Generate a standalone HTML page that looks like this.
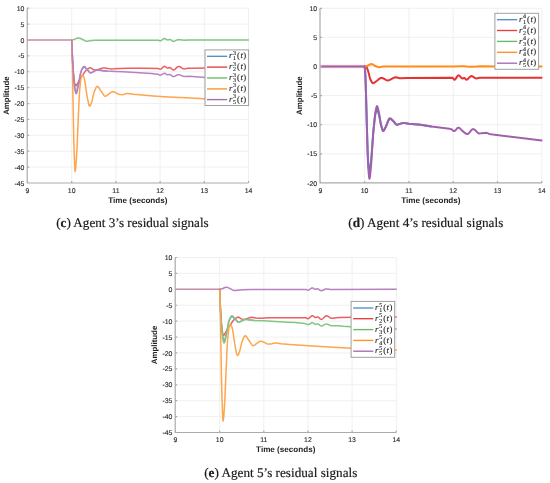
<!DOCTYPE html>
<html><head><meta charset="utf-8"><title>Agent residual signals</title>
<style>html,body{margin:0;padding:0;background:#fff;}svg{display:block;text-rendering:geometricPrecision;}</style></head>
<body><svg width="550" height="483" viewBox="0 0 550 483">
<defs><clipPath id="cc"><rect x="27.50" y="6.20" width="221.80" height="176.79"/></clipPath><clipPath id="cd"><rect x="320.30" y="6.30" width="222.30" height="176.60"/></clipPath><clipPath id="ce"><rect x="175.50" y="255.50" width="221.55" height="177.01"/></clipPath><filter id="soft" x="0" y="0" width="1" height="1"><feGaussianBlur stdDeviation="0.3"/></filter></defs>
<rect width="550" height="483" fill="#fff"/>
<g filter="url(#soft)">
<rect width="550" height="483" fill="#fff"/>
<path d="M71.70 8.20V182.99M115.90 8.20V182.99M160.10 8.20V182.99M204.30 8.20V182.99M248.50 8.20V182.99M27.50 8.20H248.50M27.50 24.09H248.50M27.50 39.98H248.50M27.50 55.87H248.50M27.50 71.76H248.50M27.50 87.65H248.50M27.50 103.54H248.50M27.50 119.43H248.50M27.50 135.32H248.50M27.50 151.21H248.50M27.50 167.10H248.50" stroke="#ececec" stroke-width="0.8" fill="none"/>
<path d="M27.50 39.98H71.70" stroke="#c88caa" stroke-width="1.50" fill="none"/>
<path d="M71.70 39.98L72.15 49.81L72.50 60.00L73.04 69.25L73.49 75.40L73.94 80.29L74.39 84.27L74.83 87.37L75.28 89.48L75.73 91.17L76.12 91.78L76.62 91.11L77.07 89.66L78.86 81.82L80.20 74.90L80.65 72.87L81.10 71.27L81.42 70.49L82.44 68.73L82.89 68.10L83.34 67.64L83.79 67.36L84.08 67.31L84.68 67.45L85.13 67.72L87.37 69.71L89.60 72.29L90.05 72.65L90.50 72.85L90.95 72.86L91.84 72.56L94.08 71.29L95.87 70.15L96.32 69.96L96.77 69.86L98.11 69.93L104.82 70.90L107.06 71.12" fill="none" stroke="#73a5cd" stroke-width="1.50" stroke-linejoin="round" stroke-linecap="round" clip-path="url(#cc)"/>
<path d="M71.70 39.98L72.14 49.20L72.50 59.05L73.03 67.75L73.47 73.66L73.91 78.12L74.36 81.70L74.80 84.09L75.24 85.08L75.69 85.66L75.90 85.74L76.13 85.65L76.57 85.10L77.45 83.52L80.56 78.32L82.33 75.55L84.99 71.62L85.88 70.55L87.65 69.03L88.98 68.14L89.87 67.82L90.31 67.79L90.75 67.88L91.20 68.10L92.53 69.07L93.36 69.54L95.18 70.15L96.45 70.33L96.96 70.27L97.40 70.13L99.62 69.03L101.39 68.45L102.72 68.09L103.97 67.95L104.93 68.02L107.94 68.58L110.25 68.84L111.48 68.90L113.80 68.83L119.56 68.44L127.97 68.32L144.37 68.27L157.89 68.42L158.55 68.62L159.44 69.12L160.10 69.31L160.76 69.13L161.21 68.85L163.42 66.80L163.87 66.52L164.52 66.34L164.75 66.37L165.20 66.56L166.53 67.59L166.97 67.89L167.41 68.07L167.85 68.07L169.63 67.58L170.07 67.60L170.51 67.81L170.96 68.16L172.29 69.47L172.73 69.81L173.36 70.01L174.06 69.84L174.50 69.59L175.39 68.85L177.16 67.14L178.05 66.58L178.66 66.45L179.38 66.57L179.82 66.75L180.70 67.27L182.48 68.46L183.36 68.86L183.97 68.95L185.14 68.86L188.24 68.31L192.23 68.17L206.40 67.92L248.50 67.63" fill="none" stroke="#ec5f60" stroke-width="1.50" stroke-linejoin="round" stroke-linecap="round" clip-path="url(#cc)"/>
<path d="M71.70 39.98L72.59 39.87L73.92 39.50L74.80 39.19L77.02 38.18L77.90 37.95L78.33 37.91L79.23 38.02L80.56 38.49L83.22 39.74L84.55 40.58L85.44 41.06L85.88 41.20L86.29 41.25L87.65 41.15L89.87 40.82L94.74 40.29L103.60 40.15L157.89 40.14L158.55 40.29L159.44 40.70L160.10 40.85L160.76 40.71L161.21 40.49L163.42 38.91L163.87 38.69L164.52 38.56L165.20 38.72L166.53 39.52L166.97 39.76L167.41 39.89L167.85 39.90L169.63 39.51L170.07 39.53L170.51 39.69L170.96 39.96L172.29 40.98L172.73 41.23L173.36 41.39L174.06 41.31L174.50 41.18L177.16 39.92L178.05 39.63L178.66 39.56L179.82 39.64L182.48 40.10L183.97 40.23L188.68 40.04L248.50 39.98" fill="none" stroke="#82c780" stroke-width="1.50" stroke-linejoin="round" stroke-linecap="round" clip-path="url(#cc)"/>
<path d="M71.70 39.98L72.23 52.69L73.03 102.59L73.47 125.64L73.92 144.43L74.36 157.95L74.80 168.78L75.10 171.55L75.24 171.34L75.69 168.31L76.13 162.65L77.02 148.17L78.79 106.21L79.23 97.11L79.68 90.16L80.56 81.08L81.01 78.22L81.20 77.48L81.89 75.83L82.33 75.17L82.75 74.94L83.22 75.43L83.66 76.60L84.55 79.83L84.99 81.98L86.77 94.28L87.17 96.55L88.54 103.47L88.98 105.11L89.42 106.00L89.60 106.08L89.87 105.97L90.31 105.39L90.75 104.44L91.64 102.14L92.08 100.67L93.86 92.95L94.24 91.78L95.18 89.47L96.07 87.60L96.51 86.93L96.96 86.50L97.34 86.38L97.84 86.55L98.29 86.94L98.73 87.49L100.50 90.32L101.39 91.53L103.60 94.96L104.05 95.50L104.49 95.91L104.93 96.16L105.29 96.23L105.82 96.14L106.71 95.68L108.92 93.91L111.58 92.15L112.47 91.81L112.91 91.78L113.35 91.83L114.24 92.07L116.01 92.78L118.67 94.28L119.44 94.48L120.44 94.56L122.21 94.64L123.10 94.60L123.99 94.40L125.76 93.82L126.65 93.60L127.97 93.54L129.75 93.73L133.29 94.29L142.15 95.11L153.23 95.94L168.74 96.92L185.58 97.85L208.62 98.98L229.00 99.89L248.50 100.68" fill="none" stroke="#ffa54c" stroke-width="1.50" stroke-linejoin="round" stroke-linecap="round" clip-path="url(#cc)"/>
<path d="M71.70 39.98L72.14 49.66L72.50 60.00L73.03 68.87L73.47 74.89L74.36 84.93L74.80 88.92L75.24 91.26L75.69 92.99L76.12 93.69L76.57 93.15L77.02 91.81L77.46 89.97L78.79 83.92L80.12 76.20L80.56 73.79L81.01 71.80L81.42 70.49L82.33 68.44L82.78 67.60L83.22 66.93L83.66 66.50L84.08 66.36L84.55 66.50L84.99 66.84L85.44 67.33L86.77 69.09L89.42 72.17L89.87 72.55L90.31 72.80L90.71 72.87L91.20 72.81L92.08 72.44L94.30 71.16L96.07 70.05L96.51 69.90L97.40 69.87L98.73 70.01L104.93 70.91L106.71 71.10L115.90 71.44L123.10 71.79L139.50 72.81L147.47 73.24L151.46 73.53L155.00 73.89L157.89 74.30L158.55 74.55L159.44 75.04L160.10 75.21L160.76 75.09L161.21 74.91L163.42 73.62L163.87 73.45L164.52 73.34L165.20 73.52L166.53 74.39L166.97 74.64L167.41 74.79L167.85 74.80L169.63 74.58L170.07 74.60L170.51 74.77L170.96 75.06L172.29 76.14L172.73 76.41L173.36 76.58L174.06 76.49L174.50 76.35L177.16 75.02L178.05 74.71L178.66 74.64L179.38 74.72L179.82 74.85L182.48 76.04L183.36 76.32L183.81 76.38L190.01 76.35L195.46 76.84L206.40 77.60L248.50 79.70" fill="none" stroke="#b783bf" stroke-width="1.50" stroke-linejoin="round" stroke-linecap="round" clip-path="url(#cc)"/>
<path d="M27.20 8.20V183.49M26.70 182.99H248.50M27.50 182.99V180.99M71.70 182.99V180.99M115.90 182.99V180.99M160.10 182.99V180.99M204.30 182.99V180.99M248.50 182.99V180.99M27.20 8.20H29.20M27.20 24.09H29.20M27.20 39.98H29.20M27.20 55.87H29.20M27.20 71.76H29.20M27.20 87.65H29.20M27.20 103.54H29.20M27.20 119.43H29.20M27.20 135.32H29.20M27.20 151.21H29.20M27.20 167.10H29.20M27.20 182.99H29.20" stroke="#ababab" stroke-width="1.2" fill="none"/>
<g font-family="'Liberation Sans', Arial, Helvetica, sans-serif" font-size="6.9" fill="#2e2e2e" stroke="#2e2e2e" stroke-width="0.14"><text x="27.50" y="192.89" text-anchor="middle">9</text><text x="71.70" y="192.89" text-anchor="middle">10</text><text x="115.90" y="192.89" text-anchor="middle">11</text><text x="160.10" y="192.89" text-anchor="middle">12</text><text x="204.30" y="192.89" text-anchor="middle">13</text><text x="248.50" y="192.89" text-anchor="middle">14</text><text x="24.40" y="10.80" text-anchor="end">10</text><text x="24.40" y="26.69" text-anchor="end">5</text><text x="24.40" y="42.58" text-anchor="end">0</text><text x="24.40" y="58.47" text-anchor="end">-5</text><text x="24.40" y="74.36" text-anchor="end">-10</text><text x="24.40" y="90.25" text-anchor="end">-15</text><text x="24.40" y="106.14" text-anchor="end">-20</text><text x="24.40" y="122.03" text-anchor="end">-25</text><text x="24.40" y="137.92" text-anchor="end">-30</text><text x="24.40" y="153.81" text-anchor="end">-35</text><text x="24.40" y="169.70" text-anchor="end">-40</text><text x="24.40" y="185.59" text-anchor="end">-45</text></g>
<text x="137.85" y="202.50" text-anchor="middle" font-family="'Liberation Sans', Arial, Helvetica, sans-serif" font-weight="bold" font-size="8.1" fill="#222">Time (seconds)</text>
<text transform="translate(9.00 95.59) rotate(-90)" text-anchor="middle" font-family="'Liberation Sans', Arial, Helvetica, sans-serif" font-weight="bold" font-size="7.9" fill="#222">Amplitude</text>
<rect x="205.00" y="49.90" width="43.60" height="55.60" fill="#fff" stroke="#a0a0a0" stroke-width="1"/>
<path d="M207.00 56.30H227.20" stroke="#5591c3" stroke-width="1.35"/>
<text font-family="'Liberation Serif', 'Times New Roman', serif" font-size="8.7" fill="#262626" stroke="#262626" stroke-width="0.12"><tspan x="228.90" y="58.40" font-style="italic">r</tspan><tspan x="233.00" y="54.80" font-size="6">3</tspan><tspan x="233.00" y="60.40" font-size="6">1</tspan><tspan x="237.00" y="58.40" letter-spacing="0.5">(<tspan font-style="italic">t</tspan>)</tspan></text>
<path d="M207.00 67.10H227.20" stroke="#e83c3e" stroke-width="1.35"/>
<text font-family="'Liberation Serif', 'Times New Roman', serif" font-size="8.7" fill="#262626" stroke="#262626" stroke-width="0.12"><tspan x="228.90" y="69.20" font-style="italic">r</tspan><tspan x="233.00" y="65.60" font-size="6">3</tspan><tspan x="233.00" y="71.20" font-size="6">2</tspan><tspan x="237.00" y="69.20" letter-spacing="0.5">(<tspan font-style="italic">t</tspan>)</tspan></text>
<path d="M207.00 78.00H227.20" stroke="#68bb65" stroke-width="1.35"/>
<text font-family="'Liberation Serif', 'Times New Roman', serif" font-size="8.7" fill="#262626" stroke="#262626" stroke-width="0.12"><tspan x="228.90" y="80.10" font-style="italic">r</tspan><tspan x="233.00" y="76.50" font-size="6">3</tspan><tspan x="233.00" y="82.10" font-size="6">3</tspan><tspan x="237.00" y="80.10" letter-spacing="0.5">(<tspan font-style="italic">t</tspan>)</tspan></text>
<path d="M207.00 88.90H227.20" stroke="#ff9226" stroke-width="1.35"/>
<text font-family="'Liberation Serif', 'Times New Roman', serif" font-size="8.7" fill="#262626" stroke="#262626" stroke-width="0.12"><tspan x="228.90" y="91.00" font-style="italic">r</tspan><tspan x="233.00" y="87.40" font-size="6">3</tspan><tspan x="233.00" y="93.00" font-size="6">4</tspan><tspan x="237.00" y="91.00" letter-spacing="0.5">(<tspan font-style="italic">t</tspan>)</tspan></text>
<path d="M207.00 99.60H227.20" stroke="#a769b1" stroke-width="1.35"/>
<text font-family="'Liberation Serif', 'Times New Roman', serif" font-size="8.7" fill="#262626" stroke="#262626" stroke-width="0.12"><tspan x="228.90" y="101.70" font-style="italic">r</tspan><tspan x="233.00" y="98.10" font-size="6">3</tspan><tspan x="233.00" y="103.70" font-size="6">5</tspan><tspan x="237.00" y="101.70" letter-spacing="0.5">(<tspan font-style="italic">t</tspan>)</tspan></text>
<path d="M364.60 8.30V182.90M408.90 8.30V182.90M453.20 8.30V182.90M497.50 8.30V182.90M541.80 8.30V182.90M320.30 8.30H541.80M320.30 37.40H541.80M320.30 66.50H541.80M320.30 95.60H541.80M320.30 124.70H541.80M320.30 153.80H541.80" stroke="#ececec" stroke-width="0.8" fill="none"/>
<path d="M320.30 66.50H365.04" stroke="#f4cfc8" stroke-width="3.40" fill="none"/>
<path d="M320.30 66.50H364.60" stroke="#a260ac" stroke-width="2.00" fill="none"/>
<path d="M364.60 66.50L365.05 70.31L365.49 78.25L365.94 91.15L366.82 124.70L367.72 152.93L368.14 161.37L368.61 167.04L369.06 171.01L369.47 172.42L369.95 170.62L370.84 162.75L371.29 158.11L371.74 152.50L373.07 134.66L374.41 121.55L374.86 117.86L375.30 114.85L375.68 113.06L376.20 111.14L376.64 109.93L377.00 109.57L377.09 109.59L377.53 110.20L377.98 111.44L378.87 114.56L379.32 116.49L380.66 123.38L381.99 128.21L382.44 129.50L382.88 130.32L383.21 130.52L383.33 130.50L383.78 130.21L384.22 129.63L385.56 127.38L386.45 125.47L387.79 122.00L388.68 120.03L389.13 119.35L389.57 118.95L389.85 118.88L390.47 119.00L390.91 119.21L391.80 119.84L393.59 121.37L394.03 121.85L395.82 124.06L396.26 124.45L396.71 124.67L397.16 124.69L398.05 124.51L399.83 123.89L402.51 123.09L403.40 122.96L403.85 122.96L405.18 123.11L408.90 123.83L411.43 124.07L418.12 124.56L422.13 125.01L426.59 125.66L431.05 126.45" fill="none" stroke="#4b8bbf" stroke-width="2.00" stroke-linejoin="round" stroke-linecap="round" clip-path="url(#cd)"/>
<path d="M364.60 66.50L365.93 66.50L366.38 66.80L366.82 67.58L368.15 71.18L368.60 72.65L369.93 78.09L370.36 79.30L371.71 81.99L372.15 82.63L372.59 83.06L373.02 83.20L373.48 83.13L374.37 82.66L377.04 80.68L379.26 78.84L380.14 78.27L381.03 77.95L381.43 77.91L381.92 77.95L382.81 78.22L383.70 78.66L385.92 79.94L386.81 80.29L387.69 80.41L388.58 80.29L389.47 80.00L390.36 79.58L393.02 78.09L393.91 77.69L394.80 77.41L395.61 77.33L397.02 77.50L399.68 78.18L400.93 78.31L406.68 77.91L452.31 77.73L452.53 77.79L452.98 78.16L453.87 79.29L454.31 79.66L454.53 79.71L454.75 79.67L455.20 79.38L455.64 78.88L457.42 76.16L457.86 75.66L458.31 75.38L458.52 75.35L458.75 75.38L459.20 75.58L459.64 75.94L460.97 77.42L461.86 78.22L462.30 78.41L462.50 78.43L464.08 78.04L464.52 78.08L464.97 78.42L465.86 79.38L466.30 79.68L466.49 79.71L466.75 79.68L467.19 79.51L467.63 79.21L468.08 78.81L469.85 76.93L470.30 76.54L470.74 76.26L471.36 76.10L472.07 76.24L472.52 76.43L475.18 78.15L475.63 78.33L476.24 78.43L477.40 78.30L479.62 77.78L480.67 77.67L496.50 77.73L541.80 77.73" fill="none" stroke="#e73133" stroke-width="2.00" stroke-linejoin="round" stroke-linecap="round" clip-path="url(#cd)"/>
<path d="M364.60 66.50L365.49 66.50L365.93 66.44L366.38 66.27L367.71 65.54L369.93 64.51L370.82 64.19L371.69 64.06L372.15 64.12L372.59 64.29L374.81 65.72L376.59 66.50L377.92 66.99L378.81 67.18L379.22 67.20L380.14 67.11L382.81 66.53L389.91 66.39L408.12 66.50L453.42 66.50L462.06 66.21L464.08 66.29L468.97 66.72L470.92 66.79L472.96 66.73L477.40 66.41L479.62 66.33L496.50 66.50L541.80 66.50" fill="none" stroke="#ff8c1a" stroke-width="2.00" stroke-linejoin="round" stroke-linecap="round" clip-path="url(#cd)"/>
<path d="M364.60 66.50L365.04 70.28L365.49 78.18L365.93 90.76L366.82 124.70L367.71 155.34L368.14 165.44L368.60 172.03L369.04 176.94L369.47 178.83L369.93 176.98L370.82 168.20L371.26 162.97L373.04 135.78L373.46 130.52L374.37 120.87L375.26 113.21L375.68 110.73L376.15 108.43L376.59 106.72L377.00 106.08L377.48 106.72L377.92 108.20L378.81 112.05L379.26 114.34L380.59 122.79L380.99 124.70L381.92 128.34L382.36 129.80L382.81 130.78L383.21 131.10L383.70 130.81L384.14 130.17L385.92 126.59L387.69 121.82L388.58 119.69L389.03 118.92L389.47 118.44L389.91 118.30L390.36 118.40L390.80 118.65L391.25 119.00L393.91 121.75L395.69 123.96L396.13 124.37L396.58 124.63L396.94 124.70L397.91 124.55L399.68 123.93L402.35 123.12L403.24 122.97L404.57 123.02L408.90 123.83L411.68 124.09L417.89 124.54L420.56 124.82L431.66 126.53L449.43 128.75L451.20 129.14L451.65 129.41L452.98 130.57L453.42 130.89L453.87 131.08L454.09 131.10L454.31 131.08L454.75 130.89L455.20 130.55L456.97 128.58L457.42 128.15L457.86 127.82L458.31 127.63L458.75 127.64L459.20 127.81L459.64 128.12L461.86 130.36L464.97 132.95L465.86 133.55L466.30 133.77L467.19 134.00L467.63 133.98L468.08 133.81L468.52 133.50L469.41 132.60L471.19 130.38L472.07 129.51L472.52 129.22L472.96 129.08L473.41 129.09L473.85 129.23L474.74 129.79L475.63 130.61L476.96 132.00L477.85 132.80L478.74 133.32L479.18 133.42L480.96 133.35L484.95 132.91L486.73 132.87L487.62 133.17L488.95 133.82L489.39 133.98L491.17 134.34L492.95 134.61L504.49 136.05L541.80 140.41" fill="none" stroke="#a260ac" stroke-width="2.00" stroke-linejoin="round" stroke-linecap="round" clip-path="url(#cd)"/>
<path d="M320.00 8.30V183.40M319.50 182.90H541.80M320.30 182.90V180.90M364.60 182.90V180.90M408.90 182.90V180.90M453.20 182.90V180.90M497.50 182.90V180.90M541.80 182.90V180.90M320.00 8.30H322.00M320.00 37.40H322.00M320.00 66.50H322.00M320.00 95.60H322.00M320.00 124.70H322.00M320.00 153.80H322.00M320.00 182.90H322.00" stroke="#ababab" stroke-width="1.2" fill="none"/>
<g font-family="'Liberation Sans', Arial, Helvetica, sans-serif" font-size="6.9" fill="#2e2e2e" stroke="#2e2e2e" stroke-width="0.14"><text x="320.30" y="192.80" text-anchor="middle">9</text><text x="364.60" y="192.80" text-anchor="middle">10</text><text x="408.90" y="192.80" text-anchor="middle">11</text><text x="453.20" y="192.80" text-anchor="middle">12</text><text x="497.50" y="192.80" text-anchor="middle">13</text><text x="541.80" y="192.80" text-anchor="middle">14</text><text x="317.20" y="10.90" text-anchor="end">10</text><text x="317.20" y="40.00" text-anchor="end">5</text><text x="317.20" y="69.10" text-anchor="end">0</text><text x="317.20" y="98.20" text-anchor="end">-5</text><text x="317.20" y="127.30" text-anchor="end">-10</text><text x="317.20" y="156.40" text-anchor="end">-15</text><text x="317.20" y="185.50" text-anchor="end">-20</text></g>
<text x="430.90" y="202.50" text-anchor="middle" font-family="'Liberation Sans', Arial, Helvetica, sans-serif" font-weight="bold" font-size="8.1" fill="#222">Time (seconds)</text>
<text transform="translate(301.50 95.60) rotate(-90)" text-anchor="middle" font-family="'Liberation Sans', Arial, Helvetica, sans-serif" font-weight="bold" font-size="7.9" fill="#222">Amplitude</text>
<rect x="494.90" y="13.30" width="43.70" height="56.00" fill="#fff" stroke="#a0a0a0" stroke-width="1"/>
<path d="M497.00 19.70H517.20" stroke="#5591c3" stroke-width="1.35"/>
<text font-family="'Liberation Serif', 'Times New Roman', serif" font-size="8.7" fill="#262626" stroke="#262626" stroke-width="0.12"><tspan x="518.90" y="21.80" font-style="italic">r</tspan><tspan x="523.00" y="18.20" font-size="6">4</tspan><tspan x="523.00" y="23.80" font-size="6">1</tspan><tspan x="527.00" y="21.80" letter-spacing="0.5">(<tspan font-style="italic">t</tspan>)</tspan></text>
<path d="M497.00 30.50H517.20" stroke="#e83c3e" stroke-width="1.35"/>
<text font-family="'Liberation Serif', 'Times New Roman', serif" font-size="8.7" fill="#262626" stroke="#262626" stroke-width="0.12"><tspan x="518.90" y="32.60" font-style="italic">r</tspan><tspan x="523.00" y="29.00" font-size="6">4</tspan><tspan x="523.00" y="34.60" font-size="6">2</tspan><tspan x="527.00" y="32.60" letter-spacing="0.5">(<tspan font-style="italic">t</tspan>)</tspan></text>
<path d="M497.00 41.40H517.20" stroke="#68bb65" stroke-width="1.35"/>
<text font-family="'Liberation Serif', 'Times New Roman', serif" font-size="8.7" fill="#262626" stroke="#262626" stroke-width="0.12"><tspan x="518.90" y="43.50" font-style="italic">r</tspan><tspan x="523.00" y="39.90" font-size="6">4</tspan><tspan x="523.00" y="45.50" font-size="6">3</tspan><tspan x="527.00" y="43.50" letter-spacing="0.5">(<tspan font-style="italic">t</tspan>)</tspan></text>
<path d="M497.00 52.30H517.20" stroke="#ff9226" stroke-width="1.35"/>
<text font-family="'Liberation Serif', 'Times New Roman', serif" font-size="8.7" fill="#262626" stroke="#262626" stroke-width="0.12"><tspan x="518.90" y="54.40" font-style="italic">r</tspan><tspan x="523.00" y="50.80" font-size="6">4</tspan><tspan x="523.00" y="56.40" font-size="6">4</tspan><tspan x="527.00" y="54.40" letter-spacing="0.5">(<tspan font-style="italic">t</tspan>)</tspan></text>
<path d="M497.00 63.20H517.20" stroke="#a769b1" stroke-width="1.35"/>
<text font-family="'Liberation Serif', 'Times New Roman', serif" font-size="8.7" fill="#262626" stroke="#262626" stroke-width="0.12"><tspan x="518.90" y="65.30" font-style="italic">r</tspan><tspan x="523.00" y="61.70" font-size="6">4</tspan><tspan x="523.00" y="67.30" font-size="6">5</tspan><tspan x="527.00" y="65.30" letter-spacing="0.5">(<tspan font-style="italic">t</tspan>)</tspan></text>
<path d="M219.65 257.50V432.51M263.80 257.50V432.51M307.95 257.50V432.51M352.10 257.50V432.51M396.25 257.50V432.51M175.50 257.50H396.25M175.50 273.41H396.25M175.50 289.32H396.25M175.50 305.23H396.25M175.50 321.14H396.25M175.50 337.05H396.25M175.50 352.96H396.25M175.50 368.87H396.25M175.50 384.78H396.25M175.50 400.69H396.25M175.50 416.60H396.25" stroke="#ececec" stroke-width="0.8" fill="none"/>
<path d="M175.50 289.32H219.65" stroke="#c88caa" stroke-width="1.50" fill="none"/>
<path d="M219.65 289.32L220.10 299.16L220.44 309.37L220.99 318.62L221.44 324.79L221.89 329.68L222.33 333.67L222.78 336.76L223.23 338.88L223.67 340.58L224.06 341.19L224.57 340.52L225.02 339.06L226.80 331.21L228.14 324.28L228.59 322.25L229.04 320.65L229.36 319.87L230.38 318.10L230.83 317.48L231.27 317.01L231.72 316.74L232.01 316.69L232.62 316.83L233.06 317.09L235.30 319.08L237.53 321.67L237.98 322.03L238.43 322.23L238.87 322.24L239.77 321.95L242.00 320.67L243.79 319.53L244.24 319.33L244.69 319.24L246.03 319.31L252.73 320.28L254.97 320.50" fill="none" stroke="#73a5cd" stroke-width="1.50" stroke-linejoin="round" stroke-linecap="round" clip-path="url(#ce)"/>
<path d="M219.65 289.32L220.09 298.55L220.44 308.41L220.98 317.12L221.42 323.04L221.86 327.50L222.31 331.09L222.75 333.48L223.19 334.47L223.63 335.06L223.84 335.14L224.08 335.05L224.52 334.49L225.39 332.91L228.50 327.71L230.27 324.94L232.93 321.00L233.81 319.93L235.58 318.41L236.91 317.51L237.80 317.20L238.24 317.16L238.68 317.26L239.12 317.47L240.45 318.44L241.28 318.91L243.11 319.53L244.37 319.71L244.88 319.65L245.32 319.51L247.53 318.41L249.30 317.83L250.63 317.46L251.88 317.32L252.85 317.40L255.85 317.96L258.16 318.22L259.38 318.28L261.70 318.20L267.45 317.82L275.86 317.69L292.24 317.65L305.74 317.80L306.40 318.00L307.29 318.50L307.95 318.69L308.61 318.51L309.06 318.22L311.27 316.17L311.71 315.89L312.37 315.71L312.60 315.74L313.04 315.93L314.37 316.97L314.81 317.27L315.25 317.44L315.70 317.45L317.47 316.95L317.91 316.97L318.35 317.18L318.79 317.53L320.12 318.85L320.56 319.18L321.20 319.39L321.89 319.22L322.33 318.97L323.22 318.22L324.99 316.52L325.88 315.95L326.49 315.82L327.20 315.94L327.65 316.12L328.53 316.65L330.30 317.84L331.19 318.23L331.79 318.32L332.96 318.23L336.06 317.69L340.04 317.54L354.20 317.30L396.25 317.00" fill="none" stroke="#ec5f60" stroke-width="1.50" stroke-linejoin="round" stroke-linecap="round" clip-path="url(#ce)"/>
<path d="M219.65 289.32L220.09 299.01L220.44 309.37L220.98 318.24L221.42 324.28L222.31 334.33L222.75 338.32L223.19 340.67L223.63 342.39L224.06 343.10L224.52 342.56L224.96 341.22L225.40 339.37L226.73 333.31L228.06 325.58L228.50 323.17L228.94 321.18L229.36 319.87L230.27 317.82L230.72 316.97L231.16 316.30L231.60 315.87L232.01 315.73L232.49 315.87L232.93 316.22L233.37 316.70L234.70 318.46L237.35 321.55L237.80 321.93L238.24 322.18L238.63 322.25L239.12 322.19L240.01 321.82L242.22 320.54L243.99 319.43L244.44 319.28L245.32 319.25L246.65 319.39L252.85 320.29L254.62 320.48L263.80 320.82L270.99 321.17L287.37 322.19L295.34 322.62L299.32 322.91L302.86 323.27L305.74 323.69L306.40 323.93L307.29 324.42L307.95 324.59L308.61 324.48L309.06 324.30L311.27 323.01L311.71 322.83L312.37 322.72L313.04 322.90L314.37 323.77L314.81 324.03L315.25 324.17L315.70 324.18L317.47 323.96L317.91 323.98L318.35 324.15L318.79 324.44L320.12 325.52L320.56 325.80L321.20 325.97L321.89 325.87L322.33 325.73L324.99 324.40L325.88 324.09L326.49 324.02L327.20 324.11L327.65 324.23L330.30 325.43L331.19 325.70L331.63 325.76L337.83 325.73L343.27 326.23L354.20 326.99L396.25 329.10" fill="none" stroke="#82c780" stroke-width="1.50" stroke-linejoin="round" stroke-linecap="round" clip-path="url(#ce)"/>
<path d="M219.65 289.32L220.18 302.05L220.98 352.01L221.42 375.09L221.86 393.90L222.31 407.44L222.75 418.28L223.05 421.05L223.19 420.84L223.63 417.81L224.08 412.14L224.96 397.65L226.73 355.63L227.17 346.52L227.62 339.57L228.50 330.47L228.94 327.60L229.14 326.87L229.83 325.22L230.27 324.55L230.69 324.32L231.16 324.82L231.60 325.99L232.49 329.22L232.93 331.37L234.70 343.69L235.10 345.96L236.47 352.89L236.91 354.53L237.35 355.42L237.53 355.51L237.80 355.40L238.24 354.81L238.68 353.86L239.57 351.56L240.01 350.09L241.78 342.36L242.17 341.19L243.11 338.87L243.99 337.00L244.44 336.33L244.88 335.90L245.26 335.78L245.76 335.95L246.21 336.34L246.65 336.89L248.42 339.73L249.30 340.94L251.52 344.37L251.96 344.91L252.40 345.32L252.85 345.57L253.20 345.64L253.73 345.55L254.62 345.09L256.83 343.32L259.48 341.55L260.37 341.22L260.81 341.19L261.26 341.24L262.14 341.48L263.91 342.19L266.57 343.69L267.33 343.89L268.34 343.97L270.11 344.05L270.99 344.01L271.88 343.81L273.65 343.23L274.53 343.01L275.86 342.95L277.63 343.14L281.17 343.70L290.02 344.52L301.09 345.35L316.58 346.34L333.40 347.26L356.42 348.39L376.78 349.31L396.25 350.10" fill="none" stroke="#ffa54c" stroke-width="1.50" stroke-linejoin="round" stroke-linecap="round" clip-path="url(#ce)"/>
<path d="M219.65 289.32L220.54 289.21L221.86 288.84L222.75 288.53L224.96 287.52L225.85 287.28L226.27 287.25L227.17 287.36L228.50 287.83L231.16 289.08L232.49 289.92L233.37 290.40L233.81 290.55L234.22 290.59L235.58 290.50L237.80 290.16L242.67 289.63L251.52 289.49L305.74 289.48L306.40 289.63L307.29 290.04L307.95 290.20L308.61 290.05L309.06 289.83L311.27 288.25L311.71 288.03L312.37 287.90L313.04 288.06L314.37 288.86L314.81 289.10L315.25 289.23L315.70 289.24L317.47 288.85L317.91 288.87L318.35 289.03L318.79 289.30L320.12 290.32L320.56 290.58L321.20 290.74L321.89 290.65L322.33 290.52L324.99 289.26L325.88 288.97L326.49 288.90L327.65 288.98L330.30 289.44L331.79 289.57L336.50 289.38L396.25 289.32" fill="none" stroke="#b783bf" stroke-width="1.50" stroke-linejoin="round" stroke-linecap="round" clip-path="url(#ce)"/>
<path d="M175.20 257.50V433.01M174.70 432.51H396.25M175.50 432.51V430.51M219.65 432.51V430.51M263.80 432.51V430.51M307.95 432.51V430.51M352.10 432.51V430.51M396.25 432.51V430.51M175.20 257.50H177.20M175.20 273.41H177.20M175.20 289.32H177.20M175.20 305.23H177.20M175.20 321.14H177.20M175.20 337.05H177.20M175.20 352.96H177.20M175.20 368.87H177.20M175.20 384.78H177.20M175.20 400.69H177.20M175.20 416.60H177.20M175.20 432.51H177.20" stroke="#ababab" stroke-width="1.2" fill="none"/>
<g font-family="'Liberation Sans', Arial, Helvetica, sans-serif" font-size="6.9" fill="#2e2e2e" stroke="#2e2e2e" stroke-width="0.14"><text x="175.50" y="442.41" text-anchor="middle">9</text><text x="219.65" y="442.41" text-anchor="middle">10</text><text x="263.80" y="442.41" text-anchor="middle">11</text><text x="307.95" y="442.41" text-anchor="middle">12</text><text x="352.10" y="442.41" text-anchor="middle">13</text><text x="396.25" y="442.41" text-anchor="middle">14</text><text x="172.40" y="260.10" text-anchor="end">10</text><text x="172.40" y="276.01" text-anchor="end">5</text><text x="172.40" y="291.92" text-anchor="end">0</text><text x="172.40" y="307.83" text-anchor="end">-5</text><text x="172.40" y="323.74" text-anchor="end">-10</text><text x="172.40" y="339.65" text-anchor="end">-15</text><text x="172.40" y="355.56" text-anchor="end">-20</text><text x="172.40" y="371.47" text-anchor="end">-25</text><text x="172.40" y="387.38" text-anchor="end">-30</text><text x="172.40" y="403.29" text-anchor="end">-35</text><text x="172.40" y="419.20" text-anchor="end">-40</text><text x="172.40" y="435.11" text-anchor="end">-45</text></g>
<text x="285.73" y="452.00" text-anchor="middle" font-family="'Liberation Sans', Arial, Helvetica, sans-serif" font-weight="bold" font-size="8.1" fill="#222">Time (seconds)</text>
<text transform="translate(157.00 345.00) rotate(-90)" text-anchor="middle" font-family="'Liberation Sans', Arial, Helvetica, sans-serif" font-weight="bold" font-size="7.9" fill="#222">Amplitude</text>
<rect x="351.10" y="301.40" width="43.60" height="55.90" fill="#fff" stroke="#a0a0a0" stroke-width="1"/>
<path d="M353.20 308.00H373.30" stroke="#5591c3" stroke-width="1.35"/>
<text font-family="'Liberation Serif', 'Times New Roman', serif" font-size="8.7" fill="#262626" stroke="#262626" stroke-width="0.12"><tspan x="375.10" y="310.10" font-style="italic">r</tspan><tspan x="379.20" y="306.50" font-size="6">5</tspan><tspan x="379.20" y="312.10" font-size="6">1</tspan><tspan x="383.20" y="310.10" letter-spacing="0.5">(<tspan font-style="italic">t</tspan>)</tspan></text>
<path d="M353.20 318.70H373.30" stroke="#e83c3e" stroke-width="1.35"/>
<text font-family="'Liberation Serif', 'Times New Roman', serif" font-size="8.7" fill="#262626" stroke="#262626" stroke-width="0.12"><tspan x="375.10" y="320.80" font-style="italic">r</tspan><tspan x="379.20" y="317.20" font-size="6">5</tspan><tspan x="379.20" y="322.80" font-size="6">2</tspan><tspan x="383.20" y="320.80" letter-spacing="0.5">(<tspan font-style="italic">t</tspan>)</tspan></text>
<path d="M353.20 329.60H373.30" stroke="#68bb65" stroke-width="1.35"/>
<text font-family="'Liberation Serif', 'Times New Roman', serif" font-size="8.7" fill="#262626" stroke="#262626" stroke-width="0.12"><tspan x="375.10" y="331.70" font-style="italic">r</tspan><tspan x="379.20" y="328.10" font-size="6">5</tspan><tspan x="379.20" y="333.70" font-size="6">3</tspan><tspan x="383.20" y="331.70" letter-spacing="0.5">(<tspan font-style="italic">t</tspan>)</tspan></text>
<path d="M353.20 340.40H373.30" stroke="#ff9226" stroke-width="1.35"/>
<text font-family="'Liberation Serif', 'Times New Roman', serif" font-size="8.7" fill="#262626" stroke="#262626" stroke-width="0.12"><tspan x="375.10" y="342.50" font-style="italic">r</tspan><tspan x="379.20" y="338.90" font-size="6">5</tspan><tspan x="379.20" y="344.50" font-size="6">4</tspan><tspan x="383.20" y="342.50" letter-spacing="0.5">(<tspan font-style="italic">t</tspan>)</tspan></text>
<path d="M353.20 351.20H373.30" stroke="#a769b1" stroke-width="1.35"/>
<text font-family="'Liberation Serif', 'Times New Roman', serif" font-size="8.7" fill="#262626" stroke="#262626" stroke-width="0.12"><tspan x="375.10" y="353.30" font-style="italic">r</tspan><tspan x="379.20" y="349.70" font-size="6">5</tspan><tspan x="379.20" y="355.30" font-size="6">5</tspan><tspan x="383.20" y="353.30" letter-spacing="0.5">(<tspan font-style="italic">t</tspan>)</tspan></text>
<text x="56.20" y="227.30" font-family="'Liberation Serif', 'Times New Roman', serif" font-size="13.2" fill="#1a1a1a" stroke="#1a1a1a" stroke-width="0.18" textLength="152.50" lengthAdjust="spacingAndGlyphs">(<tspan font-weight="bold">c</tspan>) Agent 3&#8217;s residual signals</text>
<text x="348.30" y="226.80" font-family="'Liberation Serif', 'Times New Roman', serif" font-size="13.2" fill="#1a1a1a" stroke="#1a1a1a" stroke-width="0.18" textLength="155.00" lengthAdjust="spacingAndGlyphs">(<tspan font-weight="bold">d</tspan>) Agent 4&#8217;s residual signals</text>
<text x="204.20" y="477.40" font-family="'Liberation Serif', 'Times New Roman', serif" font-size="13.2" fill="#1a1a1a" stroke="#1a1a1a" stroke-width="0.18" textLength="153.10" lengthAdjust="spacingAndGlyphs">(<tspan font-weight="bold">e</tspan>) Agent 5&#8217;s residual signals</text>
</g>
</svg></body></html>
